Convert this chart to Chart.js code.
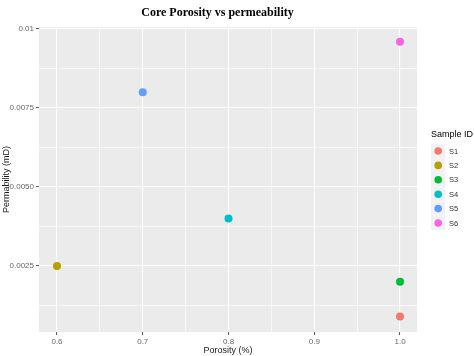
<!DOCTYPE html>
<html>
<head>
<meta charset="utf-8">
<script src="https://cdn.jsdelivr.net/npm/chart.js@4"></script>
<style>
  html, body { margin: 0; padding: 0; background: #ffffff; }
  #wrap { width: 474px; height: 356px; position: relative; }
</style>
</head>
<body>
<div id="wrap"><canvas id="c" width="474" height="356"></canvas></div>
<script>
// ---- data ----
const sampleIds = ['S1', 'S2', 'S3', 'S4', 'S5', 'S6'];
const porosity = [1.0, 0.6, 1.0, 0.8, 0.7, 1.0];
const permeability = [0.0009, 0.0025, 0.002, 0.004, 0.008, 0.0096];
const sampleColors = ['#F8766D', '#B79F00', '#00BA38', '#00BFC4', '#619CFF', '#F564E3'];

const xTickValues = [0.6, 0.7, 0.8, 0.9, 1.0];
const xTickLabels = ['0.6', '0.7', '0.8', '0.9', '1.0'];
const xMinorValues = [0.65, 0.75, 0.85, 0.95];
const yTickValues = [0.0025, 0.005, 0.0075, 0.01];
const yTickLabels = ['0.0025', '0.0050', '0.0075', '0.01'];
const yMinorValues = [0.00125, 0.00375, 0.00625, 0.00875];

const chartTitle = 'Core Porosity vs permeability';
const xTitle = 'Porosity (%)';
const yTitle = 'Permability (mD)';
const legendTitle = 'Sample ID';

// ---- build ----
const datasets = sampleIds.map((id, i) => ({
  label: id,
  data: [{ x: porosity[i], y: permeability[i] }],
  backgroundColor: sampleColors[i],
  borderColor: sampleColors[i],
  borderWidth: 0,
  pointRadius: 4,
  pointHoverRadius: 4
}));

function isMajor(list, v) {
  return list.some(t => Math.abs(t - v) < 1e-9);
}
function labelFor(values, labels, v) {
  const k = values.findIndex(t => Math.abs(t - v) < 1e-9);
  return k >= 0 ? labels[k] : '';
}

const sansFont = "'Liberation Sans', Arial, sans-serif";

const bgPlugin = {
  id: 'bg',
  beforeDraw(chart) {
    const { ctx, chartArea: a } = chart;
    ctx.save();
    ctx.fillStyle = '#ffffff';
    ctx.fillRect(0, 0, chart.width, chart.height);
    ctx.fillStyle = '#EBEBEB';
    ctx.fillRect(a.left, a.top, a.right - a.left, a.bottom - a.top);
    ctx.restore();
  },
  afterDraw(chart) {
    const { ctx } = chart;
    ctx.save();
    // title
    ctx.fillStyle = '#000000';
    ctx.font = "bold 12px 'Liberation Serif', 'Times New Roman', serif";
    ctx.textAlign = 'center';
    ctx.textBaseline = 'middle';
    ctx.fillText(chartTitle, 217.5, 13);
    // legend
    ctx.textAlign = 'left';
    ctx.font = '9px ' + sansFont;
    ctx.fillStyle = '#000000';
    ctx.fillText(legendTitle, 431, 135);
    chart.data.datasets.forEach((ds, i) => {
      const cy = 151 + i * 14.4;
      ctx.fillStyle = '#F2F2F2';
      ctx.fillRect(431, cy - 7.2, 14.4, 14.4);
      ctx.beginPath();
      ctx.arc(438.2, cy, 3.8, 0, Math.PI * 2);
      ctx.fillStyle = ds.backgroundColor;
      ctx.fill();
      ctx.fillStyle = '#333333';
      ctx.font = '7.5px ' + sansFont;
      ctx.fillText(ds.label, 449, cy + 0.5);
    });
    ctx.restore();
  }
};

new Chart(document.getElementById('c'), {
  type: 'scatter',
  data: { datasets },
  plugins: [bgPlugin],
  options: {
    responsive: false,
    animation: false,
    events: [],
    layout: { padding: { top: 27, right: 57, bottom: 0, left: 0 } },
    plugins: {
      legend: { display: false },
      title: { display: false },
      tooltip: { enabled: false }
    },
    scales: {
      x: {
        type: 'linear',
        min: 0.579,
        max: 1.0198,
        afterFit(s) { s.height = 24; },
        afterBuildTicks(s) {
          s.ticks = xTickValues.concat(xMinorValues).sort((a, b) => a - b).map(v => ({ value: v }));
        },
        border: { display: false },
        grid: {
          color: '#ffffff',
          lineWidth: c => (c.tick && isMajor(xTickValues, c.tick.value)) ? 1.1 : 0.6,
          tickLength: 3,
          tickColor: c => (c.tick && isMajor(xTickValues, c.tick.value)) ? '#555555' : 'rgba(0,0,0,0)',
          tickWidth: 1
        },
        ticks: {
          autoSkip: false,
          maxRotation: 0,
          padding: 2,
          color: '#666666',
          font: { family: sansFont, size: 8 },
          callback: v => labelFor(xTickValues, xTickLabels, v)
        },
        title: {
          display: true,
          text: xTitle,
          color: '#1a1a1a',
          font: { family: sansFont, size: 9 },
          padding: { top: 0, bottom: 0 }
        }
      },
      y: {
        type: 'linear',
        min: 0.000411,
        max: 0.010063,
        afterFit(s) { s.width = 39; },
        afterBuildTicks(s) {
          s.ticks = yTickValues.concat(yMinorValues).sort((a, b) => a - b).map(v => ({ value: v }));
        },
        border: { display: false },
        grid: {
          color: '#ffffff',
          lineWidth: c => (c.tick && isMajor(yTickValues, c.tick.value)) ? 1.1 : 0.6,
          tickLength: 3,
          tickColor: c => (c.tick && isMajor(yTickValues, c.tick.value)) ? '#555555' : 'rgba(0,0,0,0)',
          tickWidth: 1
        },
        ticks: {
          autoSkip: false,
          padding: 2,
          color: '#666666',
          font: { family: sansFont, size: 8 },
          callback: v => labelFor(yTickValues, yTickLabels, v)
        },
        title: {
          display: true,
          text: yTitle,
          color: '#1a1a1a',
          font: { family: sansFont, size: 9 },
          padding: { top: 1, bottom: 0 }
        }
      }
    }
  }
});
</script>
</body>
</html>
